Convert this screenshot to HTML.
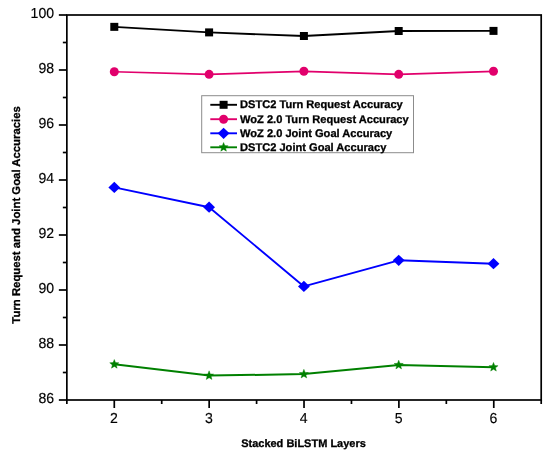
<!DOCTYPE html>
<html><head><meta charset="utf-8"><title>Chart</title><style>html,body{margin:0;padding:0;background:#fff;}svg{display:block;text-rendering:geometricPrecision;}</style></head><body>
<svg width="550" height="453" viewBox="0 0 550 453">
<rect width="550" height="453" fill="#fff"/>
<line x1="58.85" y1="400.00" x2="66.85" y2="400.00" stroke="#000" stroke-width="1.7"/>
<line x1="62.85" y1="372.50" x2="66.85" y2="372.50" stroke="#000" stroke-width="1.7"/>
<line x1="58.85" y1="345.00" x2="66.85" y2="345.00" stroke="#000" stroke-width="1.7"/>
<line x1="62.85" y1="317.50" x2="66.85" y2="317.50" stroke="#000" stroke-width="1.7"/>
<line x1="58.85" y1="290.00" x2="66.85" y2="290.00" stroke="#000" stroke-width="1.7"/>
<line x1="62.85" y1="262.50" x2="66.85" y2="262.50" stroke="#000" stroke-width="1.7"/>
<line x1="58.85" y1="235.00" x2="66.85" y2="235.00" stroke="#000" stroke-width="1.7"/>
<line x1="62.85" y1="207.50" x2="66.85" y2="207.50" stroke="#000" stroke-width="1.7"/>
<line x1="58.85" y1="180.00" x2="66.85" y2="180.00" stroke="#000" stroke-width="1.7"/>
<line x1="62.85" y1="152.50" x2="66.85" y2="152.50" stroke="#000" stroke-width="1.7"/>
<line x1="58.85" y1="125.00" x2="66.85" y2="125.00" stroke="#000" stroke-width="1.7"/>
<line x1="62.85" y1="97.50" x2="66.85" y2="97.50" stroke="#000" stroke-width="1.7"/>
<line x1="58.85" y1="70.00" x2="66.85" y2="70.00" stroke="#000" stroke-width="1.7"/>
<line x1="62.85" y1="42.50" x2="66.85" y2="42.50" stroke="#000" stroke-width="1.7"/>
<line x1="58.85" y1="15.00" x2="66.85" y2="15.00" stroke="#000" stroke-width="1.7"/>
<line x1="66.85" y1="400.00" x2="66.85" y2="404.00" stroke="#000" stroke-width="1.7"/>
<line x1="114.28" y1="400.00" x2="114.28" y2="408.00" stroke="#000" stroke-width="1.7"/>
<line x1="161.72" y1="400.00" x2="161.72" y2="404.00" stroke="#000" stroke-width="1.7"/>
<line x1="209.16" y1="400.00" x2="209.16" y2="408.00" stroke="#000" stroke-width="1.7"/>
<line x1="256.59" y1="400.00" x2="256.59" y2="404.00" stroke="#000" stroke-width="1.7"/>
<line x1="304.02" y1="400.00" x2="304.02" y2="408.00" stroke="#000" stroke-width="1.7"/>
<line x1="351.46" y1="400.00" x2="351.46" y2="404.00" stroke="#000" stroke-width="1.7"/>
<line x1="398.89" y1="400.00" x2="398.89" y2="408.00" stroke="#000" stroke-width="1.7"/>
<line x1="446.33" y1="400.00" x2="446.33" y2="404.00" stroke="#000" stroke-width="1.7"/>
<line x1="493.77" y1="400.00" x2="493.77" y2="408.00" stroke="#000" stroke-width="1.7"/>
<line x1="541.20" y1="400.00" x2="541.20" y2="404.00" stroke="#000" stroke-width="1.7"/>
<rect x="66.85" y="15.00" width="474.35" height="385.00" fill="none" stroke="#000" stroke-width="1.7"/>
<text transform="translate(54.1,403.45) scale(0.972,1)" text-anchor="end" font-family="Liberation Sans, Arial, sans-serif" font-size="14.5" stroke="#000" stroke-width="0.15">86</text>
<text transform="translate(54.1,348.45) scale(0.972,1)" text-anchor="end" font-family="Liberation Sans, Arial, sans-serif" font-size="14.5" stroke="#000" stroke-width="0.15">88</text>
<text transform="translate(54.1,293.45) scale(0.972,1)" text-anchor="end" font-family="Liberation Sans, Arial, sans-serif" font-size="14.5" stroke="#000" stroke-width="0.15">90</text>
<text transform="translate(54.1,238.45) scale(0.972,1)" text-anchor="end" font-family="Liberation Sans, Arial, sans-serif" font-size="14.5" stroke="#000" stroke-width="0.15">92</text>
<text transform="translate(54.1,183.45) scale(0.972,1)" text-anchor="end" font-family="Liberation Sans, Arial, sans-serif" font-size="14.5" stroke="#000" stroke-width="0.15">94</text>
<text transform="translate(54.1,128.45) scale(0.972,1)" text-anchor="end" font-family="Liberation Sans, Arial, sans-serif" font-size="14.5" stroke="#000" stroke-width="0.15">96</text>
<text transform="translate(54.1,73.45) scale(0.972,1)" text-anchor="end" font-family="Liberation Sans, Arial, sans-serif" font-size="14.5" stroke="#000" stroke-width="0.15">98</text>
<text transform="translate(54.1,18.45) scale(0.972,1)" text-anchor="end" font-family="Liberation Sans, Arial, sans-serif" font-size="14.5" stroke="#000" stroke-width="0.15">100</text>
<text transform="translate(114.03,423.2) scale(0.972,1)" text-anchor="middle" font-family="Liberation Sans, Arial, sans-serif" font-size="14.5" stroke="#000" stroke-width="0.15">2</text>
<text transform="translate(208.91,423.2) scale(0.972,1)" text-anchor="middle" font-family="Liberation Sans, Arial, sans-serif" font-size="14.5" stroke="#000" stroke-width="0.15">3</text>
<text transform="translate(303.77,423.2) scale(0.972,1)" text-anchor="middle" font-family="Liberation Sans, Arial, sans-serif" font-size="14.5" stroke="#000" stroke-width="0.15">4</text>
<text transform="translate(398.64,423.2) scale(0.972,1)" text-anchor="middle" font-family="Liberation Sans, Arial, sans-serif" font-size="14.5" stroke="#000" stroke-width="0.15">5</text>
<text transform="translate(493.52,423.2) scale(0.972,1)" text-anchor="middle" font-family="Liberation Sans, Arial, sans-serif" font-size="14.5" stroke="#000" stroke-width="0.15">6</text>
<text x="303.5" y="446.8" text-anchor="middle" font-family="Liberation Sans, Arial, sans-serif" font-weight="bold" font-size="11.0" stroke="#000" stroke-width="0.3">Stacked BiLSTM Layers</text>
<text transform="translate(19.6,214.9) rotate(-90)" x="0" y="0" text-anchor="middle" font-family="Liberation Sans, Arial, sans-serif" font-weight="bold" font-size="11.35" stroke="#000" stroke-width="0.3">Turn Request and Joint Goal Accuracies</text>
<polyline points="114.30,26.85 209.10,32.40 303.90,36.00 398.70,31.00 493.50,30.90" fill="none" stroke="#000" stroke-width="1.9" stroke-linejoin="round"/>
<polyline points="114.30,71.75 209.10,74.35 303.90,71.30 398.70,74.35 493.50,71.30" fill="none" stroke="#e1006c" stroke-width="1.7" stroke-linejoin="round"/>
<polyline points="114.30,187.40 209.10,207.20 303.90,286.40 398.70,260.30 493.50,263.70" fill="none" stroke="#0000ff" stroke-width="1.9" stroke-linejoin="round"/>
<polyline points="114.30,364.30 209.10,375.60 303.90,374.10 398.70,365.00 493.50,367.20" fill="none" stroke="#008000" stroke-width="2.0" stroke-linejoin="round"/>
<rect x="110.30" y="22.85" width="8.0" height="8.0" fill="#000"/>
<rect x="205.10" y="28.40" width="8.0" height="8.0" fill="#000"/>
<rect x="299.90" y="32.00" width="8.0" height="8.0" fill="#000"/>
<rect x="394.70" y="27.00" width="8.0" height="8.0" fill="#000"/>
<rect x="489.50" y="26.90" width="8.0" height="8.0" fill="#000"/>
<circle cx="114.30" cy="71.75" r="4.5" fill="#e1006c"/>
<circle cx="209.10" cy="74.35" r="4.5" fill="#e1006c"/>
<circle cx="303.90" cy="71.30" r="4.5" fill="#e1006c"/>
<circle cx="398.70" cy="74.35" r="4.5" fill="#e1006c"/>
<circle cx="493.50" cy="71.30" r="4.5" fill="#e1006c"/>
<polygon points="114.30,181.80 120.20,187.40 114.30,193.00 108.40,187.40" fill="#0000ff"/>
<polygon points="209.10,201.60 215.00,207.20 209.10,212.80 203.20,207.20" fill="#0000ff"/>
<polygon points="303.90,280.80 309.80,286.40 303.90,292.00 298.00,286.40" fill="#0000ff"/>
<polygon points="398.70,254.70 404.60,260.30 398.70,265.90 392.80,260.30" fill="#0000ff"/>
<polygon points="493.50,258.10 499.40,263.70 493.50,269.30 487.60,263.70" fill="#0000ff"/>
<polygon points="114.30,359.50 115.53,362.60 118.87,362.82 116.30,364.95 117.12,368.18 114.30,366.40 111.48,368.18 112.30,364.95 109.73,362.82 113.07,362.60" fill="#008000" stroke="#008000" stroke-width="0.4" stroke-linejoin="round"/>
<polygon points="209.10,370.80 210.33,373.90 213.67,374.12 211.10,376.25 211.92,379.48 209.10,377.70 206.28,379.48 207.10,376.25 204.53,374.12 207.87,373.90" fill="#008000" stroke="#008000" stroke-width="0.4" stroke-linejoin="round"/>
<polygon points="303.90,369.30 305.13,372.40 308.47,372.62 305.90,374.75 306.72,377.98 303.90,376.20 301.08,377.98 301.90,374.75 299.33,372.62 302.67,372.40" fill="#008000" stroke="#008000" stroke-width="0.4" stroke-linejoin="round"/>
<polygon points="398.70,360.20 399.93,363.30 403.27,363.52 400.70,365.65 401.52,368.88 398.70,367.10 395.88,368.88 396.70,365.65 394.13,363.52 397.47,363.30" fill="#008000" stroke="#008000" stroke-width="0.4" stroke-linejoin="round"/>
<polygon points="493.50,362.40 494.73,365.50 498.07,365.72 495.50,367.85 496.32,371.08 493.50,369.30 490.68,371.08 491.50,367.85 488.93,365.72 492.27,365.50" fill="#008000" stroke="#008000" stroke-width="0.4" stroke-linejoin="round"/>
<rect x="201.7" y="95.7" width="211.8" height="57" fill="#fff" stroke="#8c8c8c" stroke-width="1"/>
<line x1="210.3" y1="104.8" x2="237.0" y2="104.8" stroke="#000" stroke-width="1.9"/>
<rect x="219.60" y="100.80" width="8.0" height="8.0" fill="#000"/>
<text x="240.0" y="108.10" font-family="Liberation Sans, Arial, sans-serif" font-weight="bold" font-size="11.1" stroke="#000" stroke-width="0.3">DSTC2 Turn Request Accuracy</text>
<line x1="210.3" y1="119.2" x2="237.0" y2="119.2" stroke="#e1006c" stroke-width="1.9"/>
<circle cx="223.60" cy="119.20" r="4.5" fill="#e1006c"/>
<text x="240.0" y="122.50" font-family="Liberation Sans, Arial, sans-serif" font-weight="bold" font-size="11.1" stroke="#000" stroke-width="0.3">WoZ 2.0 Turn Request Accuracy</text>
<line x1="210.3" y1="133.3" x2="237.0" y2="133.3" stroke="#0000ff" stroke-width="1.9"/>
<polygon points="223.60,127.70 229.50,133.30 223.60,138.90 217.70,133.30" fill="#0000ff"/>
<text x="240.0" y="136.60" font-family="Liberation Sans, Arial, sans-serif" font-weight="bold" font-size="11.1" stroke="#000" stroke-width="0.3">WoZ 2.0 Joint Goal Accuracy</text>
<line x1="210.3" y1="147.3" x2="237.0" y2="147.3" stroke="#008000" stroke-width="1.9"/>
<polygon points="223.60,142.50 224.83,145.60 228.17,145.82 225.60,147.95 226.42,151.18 223.60,149.40 220.78,151.18 221.60,147.95 219.03,145.82 222.37,145.60" fill="#008000" stroke="#008000" stroke-width="0.4" stroke-linejoin="round"/>
<text x="240.0" y="150.60" font-family="Liberation Sans, Arial, sans-serif" font-weight="bold" font-size="11.1" stroke="#000" stroke-width="0.3">DSTC2 Joint Goal Accuracy</text>
</svg>
</body></html>
